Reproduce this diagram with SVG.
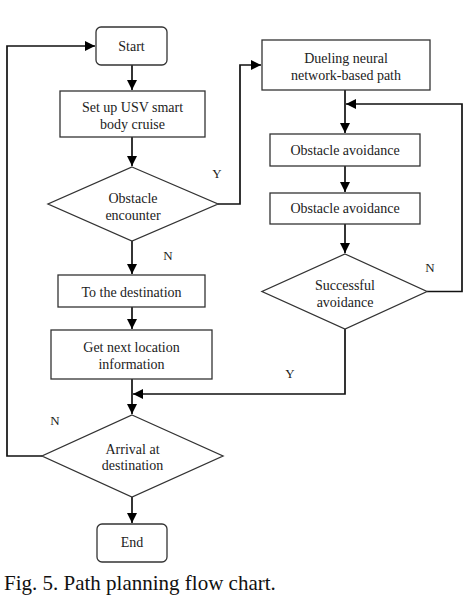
<svg xmlns="http://www.w3.org/2000/svg" width="464" height="596" viewBox="0 0 464 596">
<style>
.box{fill:#fff;stroke:#333;stroke-width:1.3}
.t{font-family:"Liberation Serif","Times New Roman",serif;font-size:14px;fill:#222;text-anchor:middle}
.lbl{font-family:"Liberation Serif","Times New Roman",serif;font-size:13px;fill:#222;text-anchor:middle}
.cap{font-family:"Liberation Serif","Times New Roman",serif;font-size:21px;fill:#111}
.c{fill:none;stroke:#111;stroke-width:1.7}
</style>
<defs>
<marker id="ah" markerUnits="userSpaceOnUse" markerWidth="11" markerHeight="11" refX="10" refY="5" orient="auto">
<path d="M0,0 L10,5 L0,10 z" fill="#000"/>
</marker>
</defs>
<rect width="464" height="596" fill="#fff"/>
<g id="connectors">
<path class="c" d="M132,65 V90" marker-end="url(#ah)"/>
<path class="c" d="M132,137 V166" marker-end="url(#ah)"/>
<path class="c" d="M132,241 V274" marker-end="url(#ah)"/>
<path class="c" d="M132,307 V329" marker-end="url(#ah)"/>
<path class="c" d="M132,379 V414" marker-end="url(#ah)"/>
<path class="c" d="M132,497 V523" marker-end="url(#ah)"/>
<path class="c" d="M42,456 H7 V46 H95" marker-end="url(#ah)"/>
<path class="c" d="M218,204 H240 V65 H261" marker-end="url(#ah)"/>
<path class="c" d="M345,90 V133" marker-end="url(#ah)"/>
<path class="c" d="M345,166 V192" marker-end="url(#ah)"/>
<path class="c" d="M345,224 V253" marker-end="url(#ah)"/>
<path class="c" d="M427,291.5 H462 V104 H346" marker-end="url(#ah)"/>
<path class="c" d="M345,329 V394 H133" marker-end="url(#ah)"/>
</g>
<g id="start">
<rect class="box" x="96" y="27" width="71" height="38" rx="5"/>
<text class="t" x="131.5" y="51">Start</text>
</g>
<g id="setup">
<rect class="box" x="60" y="91" width="145" height="46"/>
<text class="t" x="132.5" y="112">Set up USV smart</text>
<text class="t" x="132.5" y="129">body cruise</text>
</g>
<g id="obstacle-encounter">
<polygon class="box" points="132,167 218,204 132,241 48,204"/>
<text class="t" x="133" y="203">Obstacle</text>
<text class="t" x="133" y="220">encounter</text>
</g>
<g id="to-destination">
<rect class="box" x="58" y="275" width="147" height="32"/>
<text class="t" x="131.5" y="297">To the destination</text>
</g>
<g id="get-next">
<rect class="box" x="51" y="330" width="161" height="49"/>
<text class="t" x="131.5" y="352">Get next location</text>
<text class="t" x="131.5" y="369">information</text>
</g>
<g id="arrival">
<polygon class="box" points="132,415 223,456 132,497 42,456"/>
<text class="t" x="132.5" y="454">Arrival at</text>
<text class="t" x="132.5" y="470">destination</text>
</g>
<g id="end">
<rect class="box" x="97" y="524" width="70" height="38" rx="5"/>
<text class="t" x="132" y="547">End</text>
</g>
<g id="dueling">
<rect class="box" x="262" y="40" width="168" height="50"/>
<text class="t" x="346" y="63">Dueling neural</text>
<text class="t" x="346" y="80">network-based path</text>
</g>
<g id="avoid1">
<rect class="box" x="270" y="134" width="150" height="32"/>
<text class="t" x="345" y="155">Obstacle avoidance</text>
</g>
<g id="avoid2">
<rect class="box" x="270" y="193" width="150" height="31"/>
<text class="t" x="345" y="213">Obstacle avoidance</text>
</g>
<g id="successful">
<polygon class="box" points="345,254 427,291.5 345,329 262,291.5"/>
<text class="t" x="345" y="290">Successful</text>
<text class="t" x="345" y="307">avoidance</text>
</g>
<g id="labels">
<text class="lbl" x="217" y="178">Y</text>
<text class="lbl" x="168" y="260">N</text>
<text class="lbl" x="430" y="272">N</text>
<text class="lbl" x="290" y="378">Y</text>
<text class="lbl" x="55" y="425">N</text>
</g>
<text class="cap" x="4" y="590">Fig. 5. Path planning flow chart.</text>
</svg>
